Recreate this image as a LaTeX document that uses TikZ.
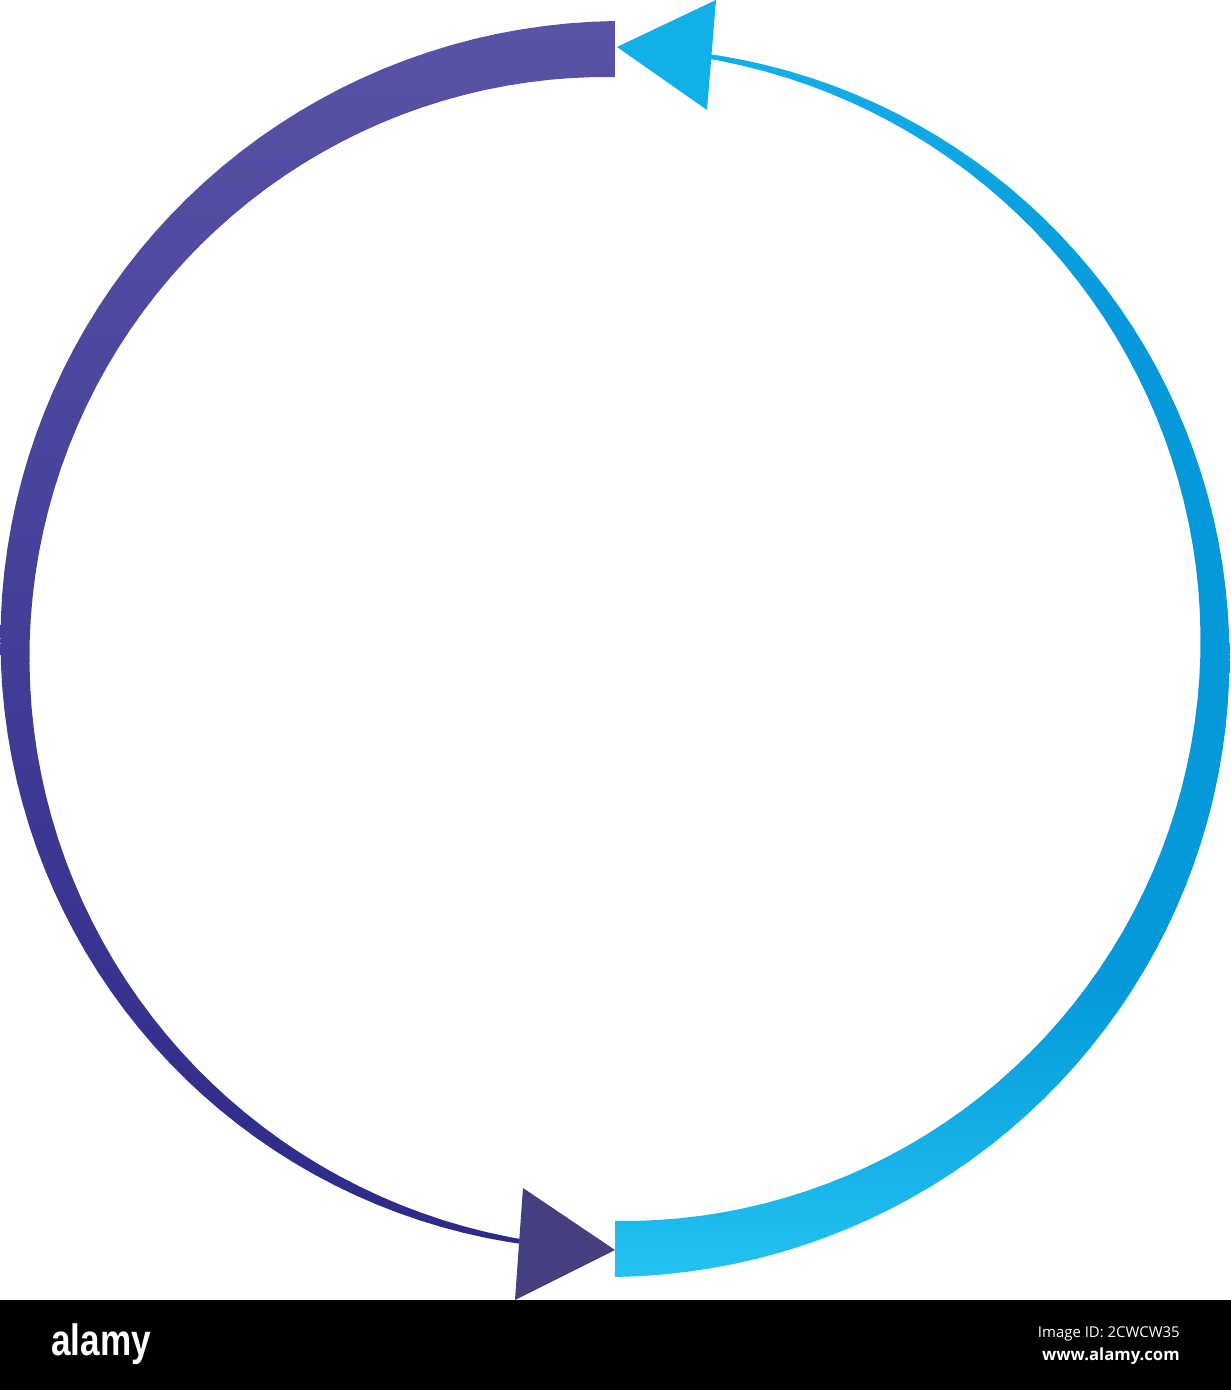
\documentclass[tikz,border=0pt]{standalone}
\usepackage{fontspec}
\setmainfont{Liberation Sans}
\newfontfamily\bannerfont{Open Sans}
\tikzset{>=stealth}
\definecolor{purpletop}{HTML}{5853A6}
\definecolor{purplebot}{HTML}{2E2A88}
\definecolor{purplehead}{HTML}{443F7E}
\definecolor{cyantop}{HTML}{14AEE8}
\definecolor{cyanmid}{HTML}{0599DB}
\definecolor{cyanbot}{HTML}{24C2F1}
\definecolor{cyanhead}{HTML}{12B0E8}
\pgfdeclareverticalshading{cyanband}{100bp}{color(0bp)=(cyanbot); color(25bp)=(cyanbot); color(37bp)=(cyanmid); color(64bp)=(cyanmid); color(75bp)=(cyantop); color(100bp)=(cyantop)}
% radius of the middle line of the band
\def\R{600}

\begin{document}
\begin{tikzpicture}[x=0.02cm,y=0.02cm]
        \useasboundingbox (-615,-741) rectangle (616,649);
        \coordinate (O) at (0,0);
        \coordinate (P1) at (0,-601);
        \coordinate (P2) at (-92,-539);
        \coordinate (P3) at (-100,-651);
        \coordinate (C1) at (2,602);
        \coordinate (C2) at (101,649);
        \coordinate (C3) at (92,539);
        % purple half, thick at the top
        \shade[top color=purpletop, bottom color=purplebot]
          plot[domain=90:262,samples=80] ({(\R+(28-0.15*(\x-90)))*cos(\x)},{(\R+(28-0.15*(\x-90)))*sin(\x)})
          -- plot[domain=262:90,samples=80] ({(\R-(28-0.15*(\x-90)))*cos(\x)},{(\R-(28-0.15*(\x-90)))*sin(\x)})
          -- cycle;
        % cyan half, thick at the bottom
        \shade[shading=cyanband]
          plot[domain=270:442,samples=80] ({(\R+(28-0.15*(\x-270)))*cos(\x)},{(\R+(28-0.15*(\x-270)))*sin(\x)})
          -- plot[domain=442:270,samples=80] ({(\R-(28-0.15*(\x-270)))*cos(\x)},{(\R-(28-0.15*(\x-270)))*sin(\x)})
          -- cycle;
        \fill[purplehead] (P1)--(P2)--(P3)--cycle;
        \fill[cyanhead] (C1)--(C2)--(C3)--cycle;
        % banner
        \fill[black] (-615,-651) rectangle (616,-741);
        \node[anchor=base west, text=white, font=\bfseries\fontsize{25}{25}\selectfont, inner sep=0pt] (logo) at (-564,-706) {\scalebox{0.8}[1]{alamy}};
        \node[anchor=base east, text=white, font=\bannerfont\fontsize{8.5}{10}\selectfont, inner sep=0pt] (imgid) at (565,-688) {Image ID: 2CWCW35};
        \node[anchor=base east, text=white, font=\bannerfont\bfseries\fontsize{9.5}{11}\selectfont, inner sep=0pt] (site) at (565,-711) {www.alamy.com};
      \end{tikzpicture}
\end{document}
